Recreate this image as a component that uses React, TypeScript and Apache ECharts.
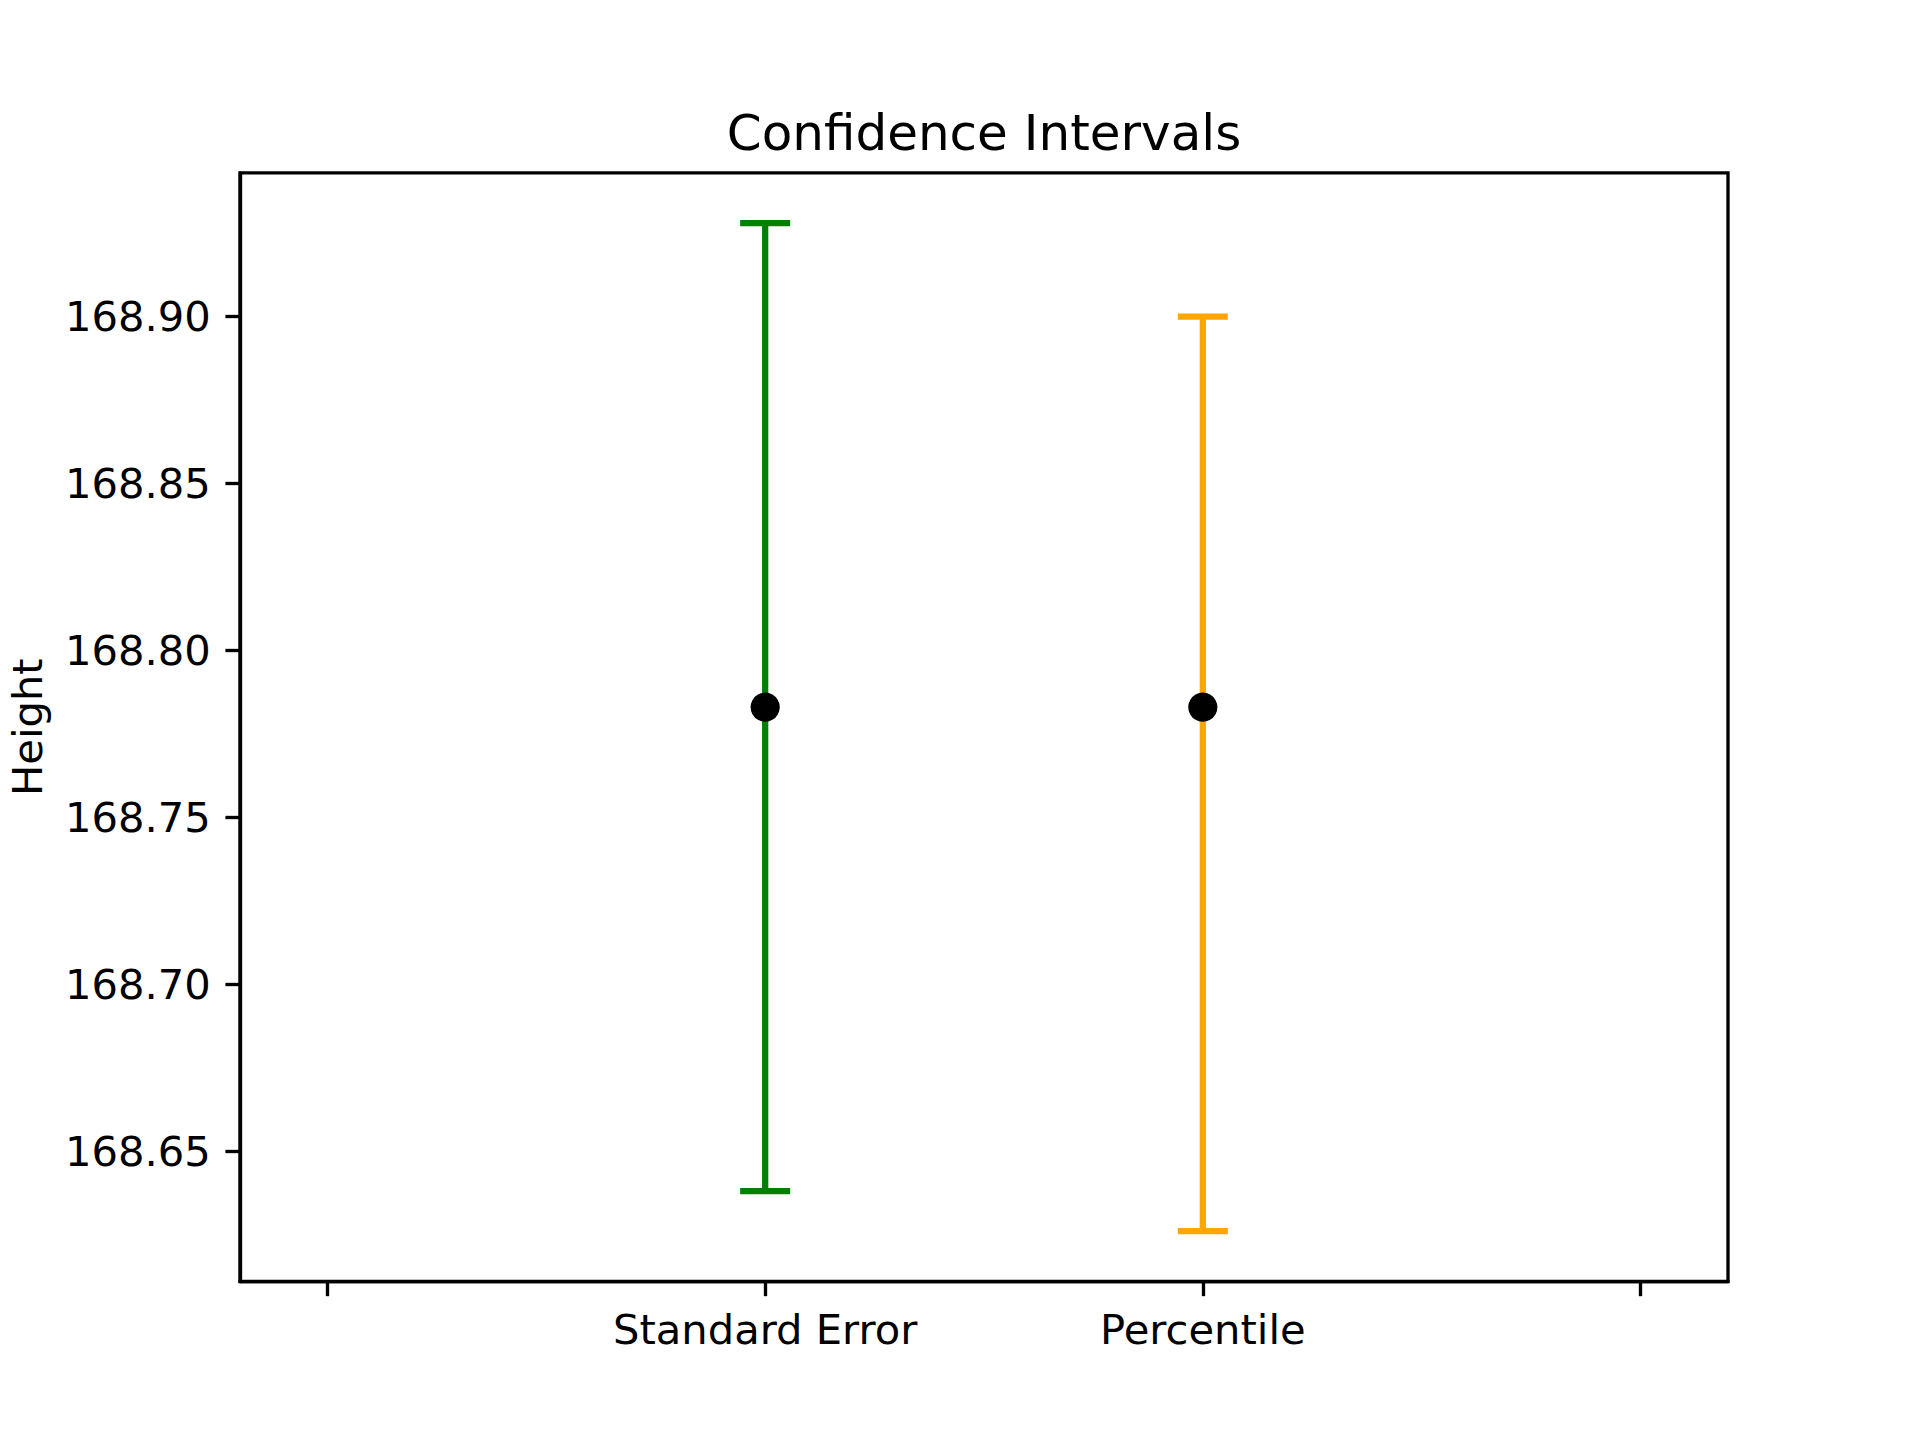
import React, { useEffect, useRef } from "react";
import * as echarts from "echarts";

const categories = ["Standard Error", "Percentile"];
const positions = [0, 1];
const means = [168.783, 168.783];
const lows = [168.638, 168.626];
const highs = [168.928, 168.9];
const barColors = ["#008000", "#FFA500"];
const xTicks = [-1, 0, 1, 2];
const yTicks = [168.65, 168.7, 168.75, 168.8, 168.85, 168.9];

const FONT = "DejaVu Sans";
const PX = 300 / 72;

export default function App() {
  const ref = useRef<HTMLDivElement>(null);
  useEffect(() => {
    if (!ref.current) return;
    const chart = echarts.init(ref.current, undefined, { renderer: "svg" });
    const lo = Math.min(...lows);
    const hi = Math.max(...highs);
    const pad = (hi - lo) * 0.05;
    const yMin = lo - pad;
    const yMax = hi + pad;
    const gridLeft = 240;
    const gridTop = 172.8;
    const gridW = 1488;
    const gridH = 1108.8;
    const option: any = {
      animation: false,
      backgroundColor: "#ffffff",
      grid: {
        left: gridLeft,
        top: gridTop,
        width: gridW,
        height: gridH,
        show: true,
        borderColor: "#000",
        borderWidth: 0.8 * PX,
        containLabel: false,
      },
      graphic: [
        {
          type: "text",
          x: gridLeft + gridW / 2,
          y: gridTop - 6 * PX + 10,
          style: {
            text: "Confidence Intervals",
            font: `${12 * PX}px "${FONT}"`,
            fill: "#000",
            textAlign: "center",
            textVerticalAlign: "bottom",
          },
        },
        {
          type: "text",
          x: 27,
          y: gridTop + gridH / 2,
          rotation: Math.PI / 2,
          style: {
            text: "Height",
            font: `${10 * PX}px "${FONT}"`,
            fill: "#000",
            textAlign: "center",
            textVerticalAlign: "middle",
          },
        },
      ],
      xAxis: {
        type: "value",
        min: -1.2,
        max: 2.2,
        splitLine: { show: false },
        axisLine: { onZero: false, lineStyle: { color: "#000", width: 0.8 * PX } },
        axisTick: {
          show: true,
          customValues: xTicks,
          length: 3.5 * PX,
          lineStyle: { color: "#000", width: 0.8 * PX },
        },
        axisLabel: {
          customValues: xTicks,
          margin: 7 * PX - 2.5,
          color: "#000",
          fontFamily: FONT,
          fontSize: 10 * PX,
          formatter: (v: number) => {
            const i = positions.indexOf(Math.round(v));
            return i >= 0 ? categories[i] : "";
          },
        },
      },
      yAxis: {
        type: "value",
        min: yMin,
        max: yMax,
        splitLine: { show: false },
        axisLine: { onZero: false, lineStyle: { color: "#000", width: 0.8 * PX } },
        axisTick: {
          show: true,
          customValues: yTicks,
          length: 3.5 * PX,
          lineStyle: { color: "#000", width: 0.8 * PX },
        },
        axisLabel: {
          customValues: yTicks,
          margin: 7 * PX,
          color: "#000",
          fontFamily: FONT,
          fontSize: 10 * PX,
          formatter: (v: number) => v.toFixed(2),
        },
      },
      series: [
        {
          type: "custom",
          z: 2,
          data: positions.map((p, i) => [p, lows[i], highs[i], i]),
          renderItem: (params: any, api: any) => {
            const x = api.value(0);
            const idx = api.value(3);
            const pLow = api.coord([x, api.value(1)]);
            const pHigh = api.coord([x, api.value(2)]);
            const cap = 6 * PX;
            const style = { stroke: barColors[idx], lineWidth: 1.5 * PX };
            return {
              type: "group",
              children: [
                { type: "line", shape: { x1: pLow[0], y1: pLow[1], x2: pHigh[0], y2: pHigh[1] }, style },
                { type: "line", shape: { x1: pLow[0] - cap, y1: pLow[1], x2: pLow[0] + cap, y2: pLow[1] }, style },
                { type: "line", shape: { x1: pHigh[0] - cap, y1: pHigh[1], x2: pHigh[0] + cap, y2: pHigh[1] }, style },
              ],
            };
          },
        },
        {
          type: "scatter",
          z: 3,
          symbol: "circle",
          symbolSize: 7 * PX,
          itemStyle: { color: "#000", opacity: 1 },
          data: positions.map((p, i) => [p, means[i]]),
        },
      ],
    };
    chart.setOption(option);
    return () => chart.dispose();
  }, []);
  return (
    <div
      ref={ref}
      style={{ position: "absolute", left: 0, top: 0, width: 1920, height: 1440, background: "#fff" }}
    />
  );
}
